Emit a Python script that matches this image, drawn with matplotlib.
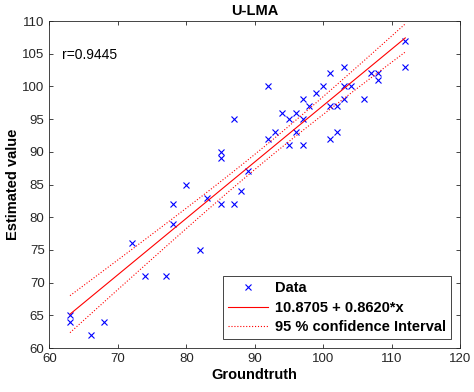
import numpy as np
import matplotlib

matplotlib.use("Agg")
import matplotlib.pyplot as plt

plt.rcParams["font.family"] = ["Liberation Sans", "DejaVu Sans"]

# ----------------------------------------------------------------------
# Dados
# ----------------------------------------------------------------------
groundtruth = [92, 87, 85, 85, 92, 89, 80, 88, 83, 85, 87, 78, 78, 72, 82, 74,
               77, 63, 63, 66, 68, 112, 112, 103, 101, 107, 108, 108, 100, 103,
               104, 99, 97, 103, 106, 98, 101, 102, 94, 96, 95, 97, 93, 96, 95,
               97, 101, 102]
estimado = [100, 95, 90, 89, 92, 87, 85, 84, 83, 82, 82, 82, 79, 76, 75, 71,
            71, 65, 64, 62, 64, 107, 103, 103, 102, 102, 102, 101, 100, 100,
            100, 99, 98, 98, 98, 97, 97, 97, 96, 96, 95, 95, 93, 93, 91,
            91, 92, 93]
intercepto, inclinacao = 10.8705, 0.8620
r_texto = "r=0.9445"

x = np.array(groundtruth, dtype=float)
y = np.array(estimado, dtype=float)
n = len(x)

# reta ajustada e intervalo de confiança de 95% da média
xs = np.linspace(x.min(), x.max(), 100)
ys = intercepto + inclinacao * xs
resid = y - (intercepto + inclinacao * x)
s = np.sqrt((resid ** 2).sum() / (n - 2))
sxx = ((x - x.mean()) ** 2).sum()
t = 2.013
meia = t * s * np.sqrt(1 / n + (xs - x.mean()) ** 2 / sxx)

fig = plt.figure(figsize=(4.74, 3.92), dpi=100)
ax = fig.add_axes([0.1044, 0.1122, 0.8661, 0.8342])

ax.plot(x, y, "x", color="#0000ff", ms=5, mew=0.8, label="Data")
ax.plot(xs, ys, color="#ff0000", lw=0.8,
        label=f"{intercepto:.4f} + {inclinacao:.4f}*x")
ax.plot(xs, ys + meia, ":", color="#ff0000", lw=0.8,
        label="95 % confidence Interval")
ax.plot(xs, ys - meia, ":", color="#ff0000", lw=0.8)

ax.set_xlim(60, 120)
ax.set_ylim(60, 110)
ax.set_xticks(range(60, 121, 10))
ax.set_yticks(range(60, 111, 5))
ax.tick_params(direction="in", top=True, right=True, labelsize=9.5,
               colors="#262626", length=3, width=0.6)
for sp in ax.spines.values():
    sp.set_color("#262626")
    sp.set_linewidth(0.6)

ax.text(61.8, 104.8, r_texto, fontsize=10, color="black", va="center")
ax.set_title("U-LMA", fontsize=10.5, fontweight="bold", pad=4)
ax.set_xlabel("Groundtruth", fontsize=10.5, fontweight="bold", labelpad=2)
ax.set_ylabel("Estimated value", fontsize=10.5, fontweight="bold", labelpad=2)

leg = ax.legend(loc="lower right", prop={"weight": "bold", "size": 10.5},
                fancybox=False, edgecolor="#262626", framealpha=1,
                borderaxespad=0.6, handlelength=2.7, labelspacing=0.38,
                borderpad=0.35, handletextpad=0.5)
leg.get_frame().set_linewidth(0.6)

plt.savefig("out.png", dpi=100)
plt.close()
